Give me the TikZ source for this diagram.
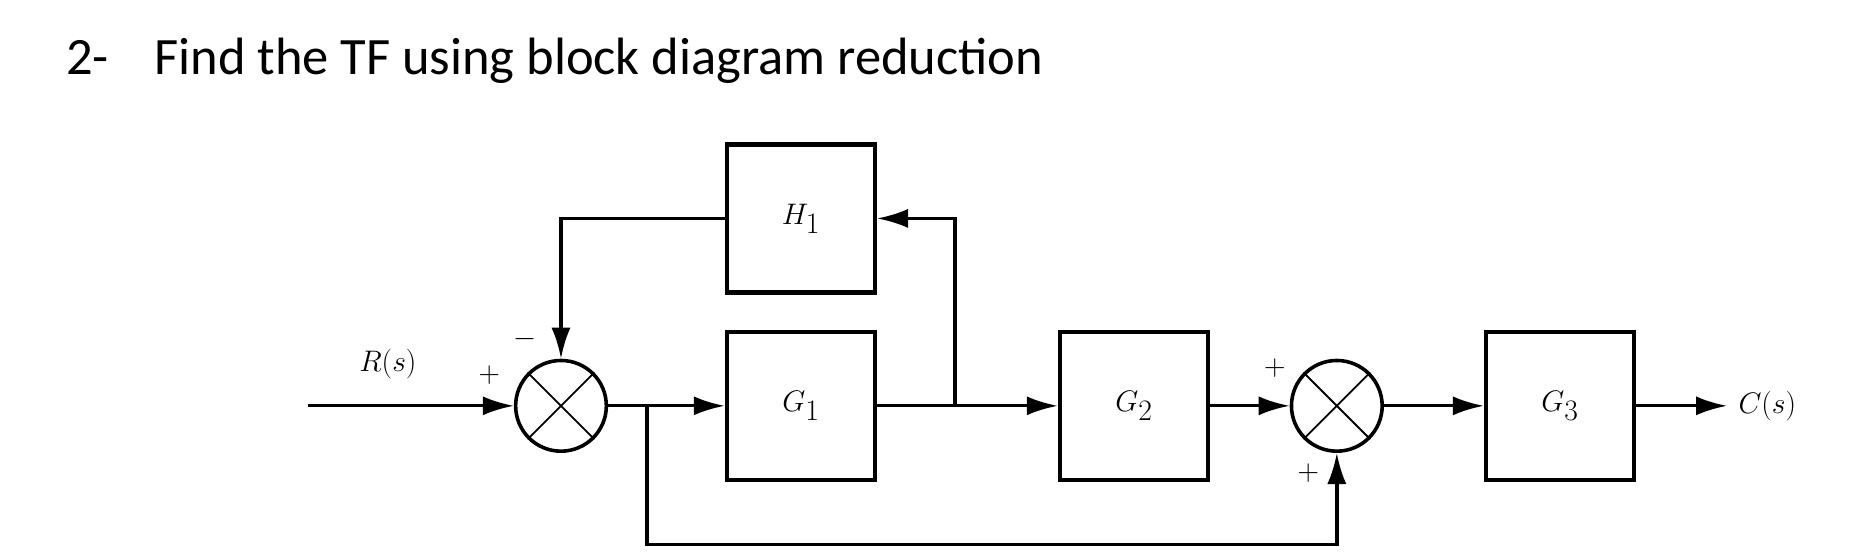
\documentclass[tikz,border=0pt]{standalone}
\usepackage{fontspec}
\setmainfont{Liberation Serif}
\newfontfamily\titlefont{Carlito}
\usetikzlibrary{arrows.meta}
\begin{document}
\begin{tikzpicture}[x=1pt,y=-1pt,
  blk/.style={draw,line width=3.5pt,minimum width=124pt,minimum height=124pt,inner sep=0pt,font=\fontsize{50}{50}\selectfont},
  sum/.style={draw,circle,line width=3pt,minimum size=76pt,inner sep=0pt},
  ln/.style={line width=2.8pt},
  ar/.style={ln,-{Latex[length=26pt,width=16pt]}},
  lbl/.style={font=\fontsize{40}{40}\selectfont},
  sg/.style={font=\fontsize{34}{34}\selectfont}]
\useasboundingbox (0,0) rectangle (1560,469);
\node[anchor=base west,font=\titlefont\fontsize{44}{44}\selectfont] (t) at (52,62) {2-\hspace{38pt}Find the TF using block diagram reduction};
\node[blk] (h1) at (671,183) {$H_1$};
\node[blk] (g1) at (671,340) {$G_1$};
\node[blk] (g2) at (950,340) {$G_2$};
\node[blk] (g3) at (1307,340) {$G_3$};
\node[sum] (s1) at (470,340) {};
\node[sum] (s2) at (1120,340) {};
\foreach \s in {s1,s2}{
  \draw[line width=1.5pt] (\s.45)--(\s.225) (\s.135)--(\s.315);}
\coordinate (in) at (258,340);
\coordinate (p1) at (542,340);
\coordinate (p2) at (800,340);
\coordinate (out) at (1447,340);
\node[lbl] (r) at (325,305) {$R(s)$};
\node[lbl,anchor=west] (c) at (1453,340) {$C(s)$};
\draw[ar] (in)--(s1.west);
\draw[ar] (s1.east)--(g1.west);
\draw[ar] (g1.east)--(g2.west);
\draw[ar] (g2.east)--(s2.west);
\draw[ar] (s2.east)--(g3.west);
\draw[ar] (g3.east)--(out);
\draw[ar] (p2)|-(h1.east);
\draw[ar] (h1.west)-|(s1.north);
\draw[ar] (p1)--(542,456)-|(s2.south);
\node[sg] (a) at (410,314) {$+$};
\node[sg] (b) at (440,284) {$-$};
\node[sg] (c1) at (1068,308) {$+$};
\node[sg] (d) at (1096,396) {$+$};
\end{tikzpicture}
\end{document}
